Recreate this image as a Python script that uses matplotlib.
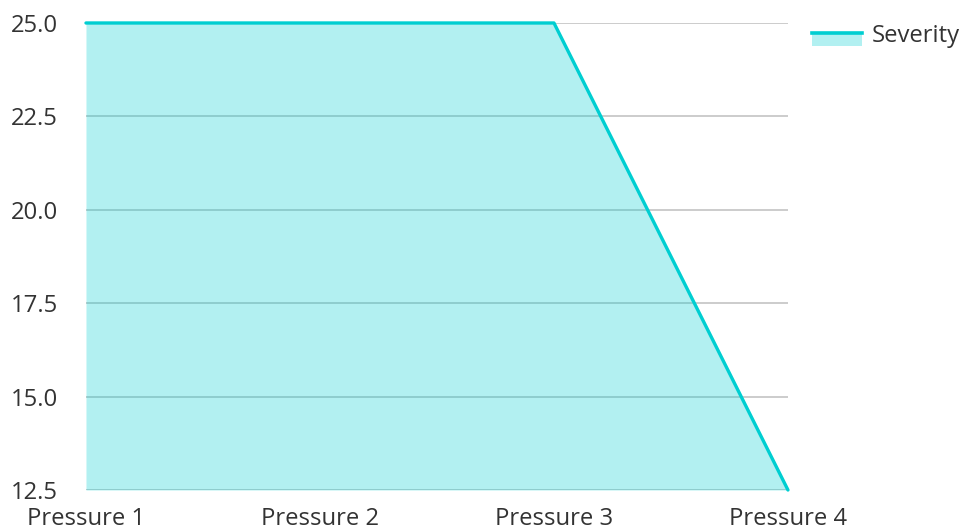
import matplotlib
matplotlib.use("Agg")
import matplotlib.pyplot as plt
from matplotlib.legend_handler import HandlerBase
from matplotlib.patches import Rectangle
from matplotlib.lines import Line2D

categories = ["Pressure 1", "Pressure 2", "Pressure 3", "Pressure 4"]
severity = [25.0, 25.0, 25.0, 12.5]
y_ticks = [12.5, 15.0, 17.5, 20.0, 22.5, 25.0]

LINE_COLOR = "#00CED1"
FILL_ALPHA = 0.3
FONT_SIZE = 17.2

plt.rcParams["font.family"] = ["Open Sans", "DejaVu Sans"]


class AreaHandler(HandlerBase):
    # legend key: filled strip with the line along its top edge
    def create_artists(self, legend, orig, xdescent, ydescent, width, height, fontsize, trans):
        mid = -ydescent + height / 2 + 1.0
        patch = Rectangle((-xdescent, mid - 9.5), width, 9.5,
                          facecolor=LINE_COLOR, alpha=FILL_ALPHA, edgecolor="none", transform=trans)
        line = Line2D([-xdescent, -xdescent + width], [mid, mid],
                      color=LINE_COLOR, linewidth=2.6, transform=trans)
        return [patch, line]


fig = plt.figure(figsize=(9.66, 5.31), dpi=100)
ax = fig.add_axes([0.089, 0.0772, 0.7267, 0.8795])

x = list(range(len(categories)))
ax.fill_between(x, severity, 12.5, color=LINE_COLOR, alpha=FILL_ALPHA, linewidth=0, zorder=1)
ax.plot(x, severity, color=LINE_COLOR, linewidth=2.4, zorder=3,
        solid_capstyle="round", clip_on=False)

ax.set_xlim(0, 3)
ax.set_ylim(12.5, 25.0)
ax.set_yticks(y_ticks)
ax.set_yticklabels([f"{v:.1f}" for v in y_ticks])
ax.set_xticks(x)
ax.set_xticklabels(categories)
ax.tick_params(axis="both", length=0, labelsize=FONT_SIZE, labelcolor="#333333")
ax.tick_params(axis="y", pad=20)
ax.tick_params(axis="x", pad=12)

# grid sits under the translucent fill
ax.grid(axis="y", color="#c4c4c4", linewidth=1.2)
ax.set_axisbelow(True)
for s in ax.spines.values():
    s.set_visible(False)

ax.legend([object()], ["Severity"], handler_map={object: AreaHandler()},
          loc="upper left", bbox_to_anchor=(1.034, 0.997), frameon=False,
          borderpad=0, borderaxespad=0,
          fontsize=FONT_SIZE, handlelength=2.1, handletextpad=0.42, labelcolor="#333333")

fig.savefig("out.png", dpi=100)
